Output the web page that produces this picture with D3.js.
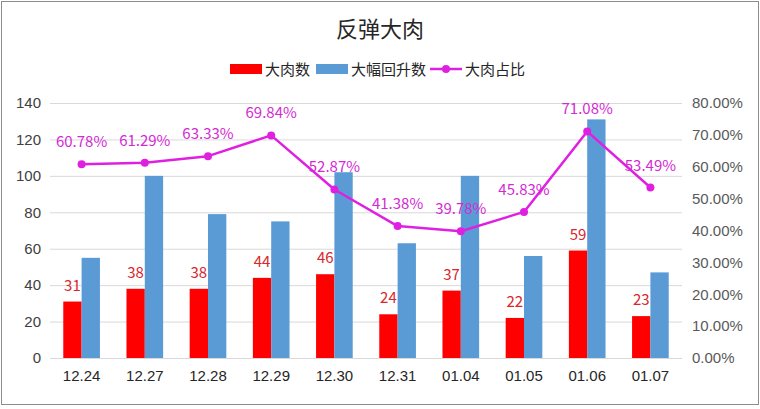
<!DOCTYPE html>
<html>
<head>
<meta charset="utf-8">
<script src="https://cdn.jsdelivr.net/npm/d3@7"></script>
<style>
  body { margin: 0; background: #fff; }
  svg { display: block; font-family: "Noto Sans CJK SC", "Noto Sans", sans-serif; }
</style>
</head>
<body>
<div id="chart"></div>
<script>
const categories = ["12.24", "12.27", "12.28", "12.29", "12.30", "12.31", "01.04", "01.05", "01.06", "01.07"];
const bigMeat = [31, 38, 38, 44, 46, 24, 37, 22, 59, 23];
const bigRise = [55, 100, 79, 75, 102, 63, 100, 56, 131, 47];
const meatRatio = [60.78, 61.29, 63.33, 69.84, 52.87, 41.38, 39.78, 45.83, 71.08, 53.49];
const leftTicks = [0, 20, 40, 60, 80, 100, 120, 140];
const rightTicks = [0, 10, 20, 30, 40, 50, 60, 70, 80];

const width = 760;
const height = 409;
const margin = { top: 103, right: 78, bottom: 51, left: 50 };
const red = "#ff0000";
const blue = "#5b9bd5";
const magenta = "#e020e0";
const numFont = 15;

const svg = d3
  .select("#chart")
  .append("svg")
  .attr("width", width)
  .attr("height", height);

svg
  .append("rect")
  .attr("x", 1.5)
  .attr("y", 1.5)
  .attr("width", width - 3)
  .attr("height", height - 6)
  .attr("fill", "#fff")
  .attr("stroke", "#8c8c8c");

const xScale = d3
  .scaleBand()
  .domain(categories)
  .range([margin.left, width - margin.right]);

const groupWidth = xScale.bandwidth() * 0.58;
const barWidth = groupWidth / 2;

const yScale = d3
  .scaleLinear()
  .domain([0, 140])
  .range([height - margin.bottom, margin.top]);

const yRight = d3
  .scaleLinear()
  .domain([0, 80])
  .range([height - margin.bottom, margin.top]);

// gridlines
svg
  .append("g")
  .selectAll("line")
  .data(leftTicks)
  .enter()
  .append("line")
  .attr("x1", margin.left)
  .attr("x2", width - margin.right)
  .attr("y1", (d) => yScale(d) + 0.5)
  .attr("y2", (d) => yScale(d) + 0.5)
  .attr("stroke", "#d9d9d9")
  .attr("stroke-width", 1);

// left axis
const yAxis = d3.axisLeft(yScale).tickValues(leftTicks).tickSize(0).tickPadding(9);
const gLeft = svg
  .append("g")
  .attr("transform", `translate(${margin.left}, 0)`)
  .call(yAxis);
gLeft.select(".domain").remove();
gLeft.selectAll("text").attr("font-size", numFont).attr("fill", "#404040");

// right axis
const yAxisR = d3
  .axisRight(yRight)
  .tickValues(rightTicks)
  .tickSize(0)
  .tickPadding(10)
  .tickFormat((d) => d.toFixed(2) + "%");
const gRight = svg
  .append("g")
  .attr("transform", `translate(${width - margin.right}, 0)`)
  .call(yAxisR);
gRight.select(".domain").remove();
gRight.selectAll("text").attr("font-size", numFont).attr("fill", "#595959");

// x axis
const xAxis = d3.axisBottom(xScale).tickSize(0).tickPadding(12);
const gX = svg
  .append("g")
  .attr("transform", `translate(0, ${height - margin.bottom})`)
  .call(xAxis);
gX.select(".domain").remove();
gX.selectAll("text").attr("font-size", numFont).attr("fill", "#262626");

const center = (c) => xScale(c) + xScale.bandwidth() / 2;

// bars
svg
  .append("g")
  .selectAll("rect")
  .data(categories)
  .enter()
  .append("rect")
  .attr("x", (d) => center(d) - barWidth)
  .attr("y", (d, i) => yScale(bigMeat[i]))
  .attr("width", barWidth)
  .attr("height", (d, i) => yScale(0) - yScale(bigMeat[i]))
  .attr("fill", red);

svg
  .append("g")
  .selectAll("rect")
  .data(categories)
  .enter()
  .append("rect")
  .attr("x", (d) => center(d))
  .attr("y", (d, i) => yScale(bigRise[i]))
  .attr("width", barWidth)
  .attr("height", (d, i) => yScale(0) - yScale(bigRise[i]))
  .attr("fill", blue);

// red value labels
svg
  .append("g")
  .selectAll("text")
  .data(categories)
  .enter()
  .append("text")
  .attr("x", (d) => center(d) - barWidth / 2)
  .attr("y", (d, i) => yScale(bigMeat[i]) - 11)
  .attr("text-anchor", "middle")
  .attr("font-size", numFont)
  .attr("fill", "#d8262b")
  .text((d, i) => bigMeat[i]);

// ratio line
const line = d3
  .line()
  .x((d, i) => center(categories[i]))
  .y((d) => yRight(d));

svg
  .append("path")
  .datum(meatRatio)
  .attr("d", line)
  .attr("fill", "none")
  .attr("stroke", magenta)
  .attr("stroke-width", 2.5)
  .attr("stroke-linejoin", "round");

svg
  .append("g")
  .selectAll("circle")
  .data(meatRatio)
  .enter()
  .append("circle")
  .attr("cx", (d, i) => center(categories[i]))
  .attr("cy", (d) => yRight(d))
  .attr("r", 4)
  .attr("fill", magenta);

svg
  .append("g")
  .selectAll("text")
  .data(meatRatio)
  .enter()
  .append("text")
  .attr("x", (d, i) => center(categories[i]))
  .attr("y", (d) => yRight(d) - 17)
  .attr("text-anchor", "middle")
  .attr("font-size", numFont)
  .attr("fill", "#d42ad4")
  .text((d) => d.toFixed(2) + "%");

// title
svg
  .append("text")
  .attr("x", width / 2)
  .attr("y", 37)
  .attr("text-anchor", "middle")
  .attr("font-size", 22)
  .attr("fill", "#262626")
  .text("反弹大肉");

// legend
const legend = svg.append("g").attr("font-size", 15).attr("fill", "#262626");
const legendItems = [
  { label: "大肉数", x: 230, kind: "bar", color: red },
  { label: "大幅回升数", x: 316, kind: "bar", color: blue },
  { label: "大肉占比", x: 430, kind: "line", color: magenta },
];
legendItems.forEach((item) => {
  if (item.kind === "bar") {
    legend
      .append("rect")
      .attr("x", item.x)
      .attr("y", 64)
      .attr("width", 32)
      .attr("height", 10)
      .attr("fill", item.color);
  } else {
    legend
      .append("line")
      .attr("x1", item.x)
      .attr("x2", item.x + 32)
      .attr("y1", 69)
      .attr("y2", 69)
      .attr("stroke", item.color)
      .attr("stroke-width", 2.5);
    legend
      .append("circle")
      .attr("cx", item.x + 16)
      .attr("cy", 69)
      .attr("r", 4)
      .attr("fill", item.color);
  }
  legend
    .append("text")
    .attr("x", item.x + 35)
    .attr("y", 74.5)
    .text(item.label);
});
</script>
</body>
</html>
